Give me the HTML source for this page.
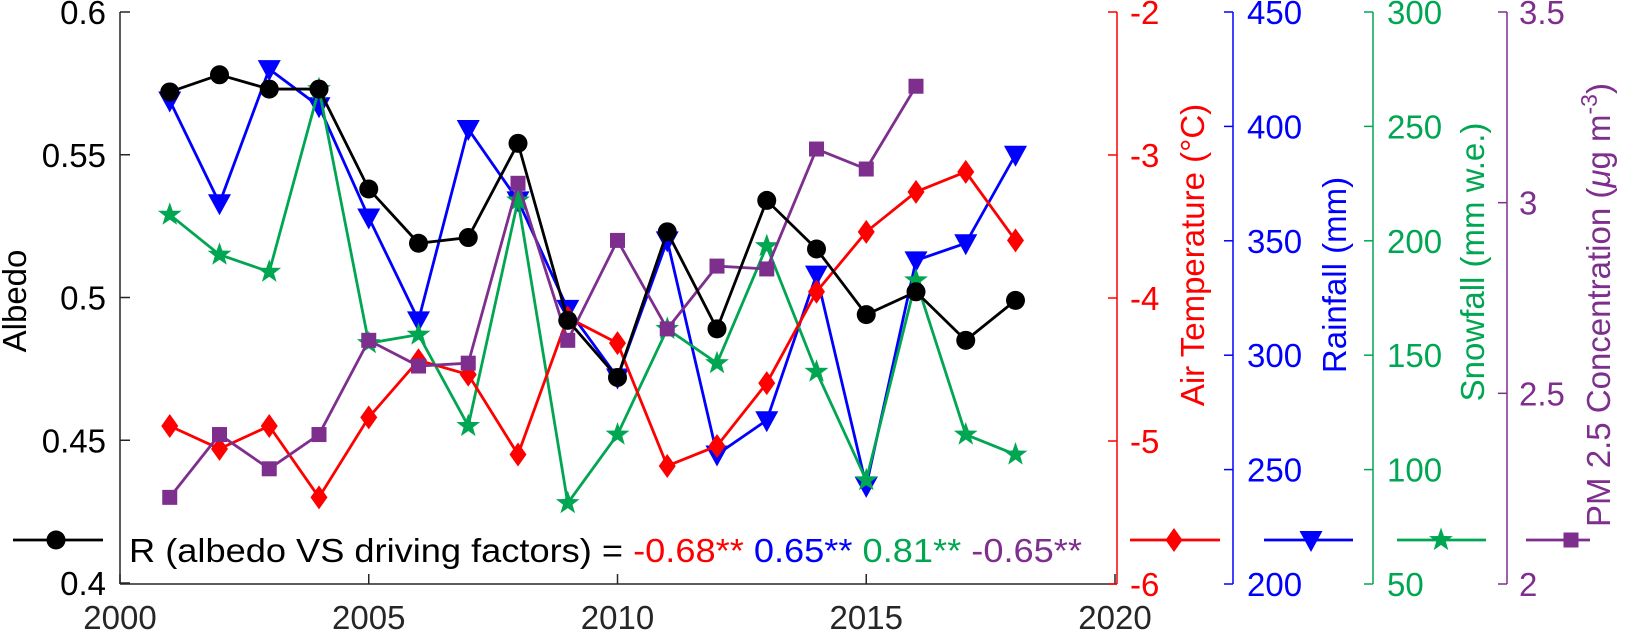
<!DOCTYPE html>
<html><head><meta charset="utf-8"><style>
html,body{margin:0;padding:0;background:#fff;}
svg{display:block;font-family:"Liberation Sans",Arial,sans-serif;}
</style></head><body>
<svg id="s" width="1625" height="630" viewBox="0 0 1625 630" xmlns="http://www.w3.org/2000/svg"></svg>
<script>
const S=document.getElementById('s');let h='';
const X=y=>120+(y-2000)*49.75;
const Y=v=>12+(0.6-v)*2855;
const K='#262626',R='#ff0000',B='#0000ff',G='#00a651',P='#7e2f8e';
const FS=33;
h+=`<line x1="120" y1="12" x2="120" y2="584" stroke="${K}" stroke-width="1.5"/>`;
h+=`<line x1="120" y1="584" x2="1117" y2="584" stroke="${K}" stroke-width="1.5"/>`;
for(let i=0;i<=4;i++){const v=0.6-i*0.05,y=Y(v);h+=`<line x1="120" y1="${y}" x2="130" y2="${y}" stroke="${K}" stroke-width="1.5"/>`;
h+=`<text x="106" y="${y+12}" font-size="${FS}" text-anchor="end" fill="#000">${[0.6,0.55,0.5,0.45,0.4][i]}</text>`;}
for(let yr=2000;yr<=2020;yr+=5){const x=X(yr);h+=`<line x1="${x}" y1="584" x2="${x}" y2="574" stroke="${K}" stroke-width="1.5"/>`;
h+=`<text x="${x}" y="629" font-size="${FS}" text-anchor="middle" fill="#262626">${yr}</text>`;}
h+=`<text transform="translate(26,301) rotate(-90)" font-size="${FS}" text-anchor="middle" fill="#000">Albedo</text>`;
const ax=[[1117,R,['-2','-3','-4','-5','-6'],1130,'Air Temperature (°C)',1204,255],
[1233,B,['450','400','350','300','250','200'],1247,'Rainfall (mm)',1346,275],
[1373,G,['300','250','200','150','100','50'],1387,'Snowfall (mm w.e.)',1484,262],
[1507,P,['3.5','3','2.5','2'],1519,'PM 2.5 Concentration (<tspan font-style="italic">μ</tspan>g m<tspan dy="-13" font-size="23">-3</tspan><tspan dy="13">)</tspan>',1610,305]];
for(const [x,c,labs,lx,t,tx,ty] of ax){
 h+=`<line x1="${x}" y1="12" x2="${x}" y2="584" stroke="${c}" stroke-width="1.5"/>`;
 const n=labs.length-1;
 labs.forEach((l,i)=>{const y=12+i*572/n;h+=`<line x1="${x-9}" y1="${y}" x2="${x}" y2="${y}" stroke="${c}" stroke-width="1.5"/>`;
 h+=`<text x="${lx}" y="${y+12}" font-size="${FS}" fill="${c}">${l}</text>`;});
 h+=`<text transform="translate(${tx},${ty}) rotate(-90)" font-size="${FS}" text-anchor="middle" fill="${c}">${t}</text>`;
}
function mk(t,x,y,c){
 if(t=='o')return `<circle cx="${x}" cy="${y}" r="9.5" fill="${c}"/>`;
 if(t=='d')return `<polygon points="${x},${y-12} ${x+8.5},${y} ${x},${y+12} ${x-8.5},${y}" fill="${c}"/>`;
 if(t=='v')return `<polygon points="${x-11.5},${y-9} ${x+11.5},${y-9} ${x},${y+12}" fill="${c}"/>`;
 if(t=='s')return `<rect x="${x-7.5}" y="${y-7.5}" width="15" height="15" fill="${c}"/>`;
 if(t=='*'){let p=[];for(let i=0;i<10;i++){const a=-Math.PI/2+i*Math.PI/5,r=i%2?5:12.5;p.push((x+r*Math.cos(a)).toFixed(1)+','+(y+r*Math.sin(a)).toFixed(1));}return `<polygon points="${p.join(' ')}" fill="${c}"/>`;}
}
function series(d,c,t){const pts=d.map((v,i)=>[X(2001+i),Y(v)]);
 h+=`<polyline points="${pts.map(p=>p.join(',')).join(' ')}" fill="none" stroke="${c}" stroke-width="2.8"/>`;
 pts.forEach(p=>h+=mk(t,p[0],p[1],c));}
series([0.569,0.533,0.580,0.567,0.528,0.492,0.559,0.534,0.496,0.472,0.520,0.445,0.457,0.508,0.434,0.513,0.519,0.550],B,'v');
series([0.529,0.515,0.509,0.573,0.484,0.487,0.455,0.534,0.428,0.452,0.489,0.477,0.518,0.474,0.436,0.506,0.452,0.445],G,'*');
series([0.455,0.447,0.455,0.430,0.458,0.478,0.473,0.445,0.493,0.484,0.441,0.448,0.470,0.502,0.523,0.537,0.544,0.520],R,'d');
series([0.430,0.452,0.440,0.452,0.485,0.476,0.477,0.540,0.485,0.520,0.489,0.511,0.510,0.552,0.545,0.574],P,'s');
series([0.572,0.578,0.573,0.573,0.538,0.519,0.521,0.554,0.492,0.472,0.523,0.489,0.534,0.517,0.494,0.502,0.485,0.499],'#000','o');
const L=[[13,103,56,'#000','o'],[1130,1220,1174,R,'d'],[1264,1353,1311,B,'v'],[1397,1486,1441,G,'*'],[1526,1590,1571,P,'s']];
for(const [a,b,m,c,t] of L){h+=`<line x1="${a}" y1="540" x2="${b}" y2="540" stroke="${c}" stroke-width="2.8"/>`+mk(t,m,540,c);}
h+=`<text x="129" y="562" font-size="${FS}" textLength="953" lengthAdjust="spacingAndGlyphs"><tspan fill="#000">R (albedo VS driving factors) = </tspan><tspan fill="${R}">-0.68**</tspan><tspan fill="${B}"> 0.65**</tspan><tspan fill="${G}"> 0.81**</tspan><tspan fill="${P}"> -0.65**</tspan></text>`;
S.innerHTML=h;
</script>
</body></html>
